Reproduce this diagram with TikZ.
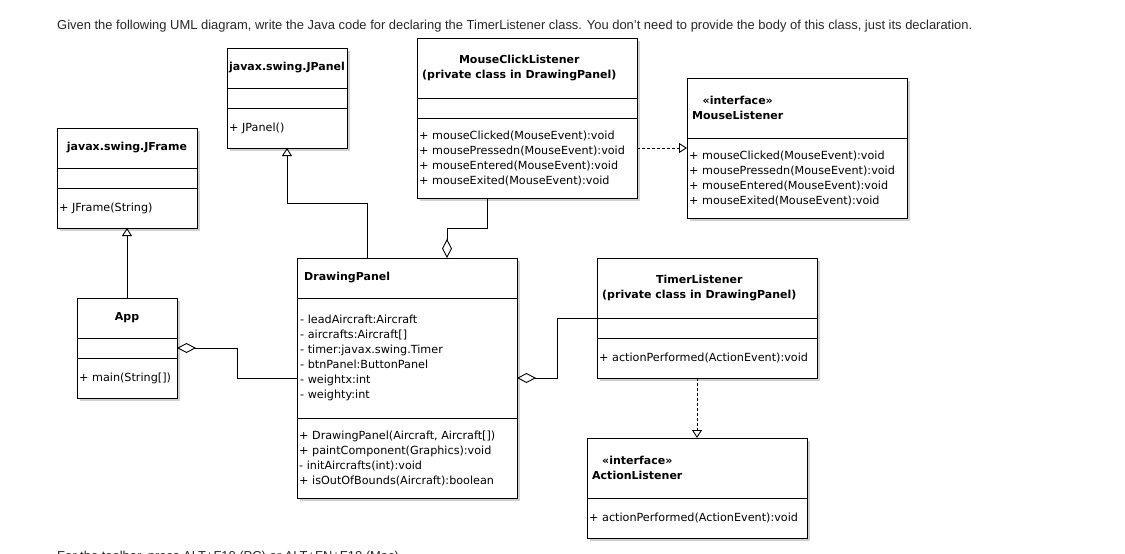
\documentclass[tikz,border=0pt]{standalone}
\usepackage{fontspec}
\setmainfont{Liberation Sans}
\newfontfamily\umlfont{DejaVu Sans}
\usetikzlibrary{positioning,arrows.meta,shadows}

\tikzset{
  box/.style={draw,fill=white,line width=0.9pt,anchor=north west,inner sep=0pt,outer sep=0pt,
    drop shadow={shadow xshift=3pt,shadow yshift=-3pt,fill=black!18,opacity=1}},
  cbox/.style 2 args={box,minimum width=#1,minimum height=#2},
  ttl/.style={font=\umlfont\bfseries\fontsize{11}{15}\selectfont,align=center,inner sep=0pt},
  ops/.style={font=\umlfont\fontsize{11.2}{15}\selectfont,align=left,inner sep=0pt},
  inherit/.style={-{Triangle[open,width=10pt,length=8pt]},line width=0.9pt},
  realize/.style={inherit,dash pattern=on 3pt off 2pt},
  aggr/.style={{Diamond[open,width=10pt,length=19pt]}-,line width=0.9pt}
}

\begin{document}
\begin{tikzpicture}[x=1pt,y=-1pt]
  \useasboundingbox (0,0) rectangle (1125,554);
  \clip (0,0) rectangle (1125,554);

  \node[anchor=base west,inner sep=0pt,font=\fontsize{12.95}{14}\selectfont,text=black!85] (q) at (57,29.5)
    {Given the following UML diagram, write the Java code for declaring the TimerListener class. You don’t need to provide the body of this class, just its declaration.};
  \node[anchor=base west,inner sep=0pt,font=\fontsize{12.95}{14}\selectfont,text=black!85] (tb) at (57,560)
    {For the toolbar, press ALT+F10 (PC) or ALT+FN+F10 (Mac).};

  \node[cbox={140pt}{40pt}] (jft) at (57,128) {};
  \node[cbox={140pt}{20pt}] (jfa) at (jft.south west) {};
  \node[cbox={140pt}{40pt}] (jfm) at (jfa.south west) {};
  \node[ttl] at (jft.center) {javax.swing.JFrame};
  \node[ops,right=2pt of jfm.west] {+ JFrame(String)};

  \node[cbox={120pt}{40pt}] (jpt) at (227,48) {};
  \node[cbox={120pt}{20pt}] (jpa) at (jpt.south west) {};
  \node[cbox={120pt}{40pt}] (jpm) at (jpa.south west) {};
  \node[ttl] at (jpt.center) {javax.swing.JPanel};
  \node[ops,right=2pt of jpm.west] {+ JPanel()};

  \node[cbox={220pt}{60pt}] (mct) at (417,38) {};
  \node[cbox={220pt}{20pt}] (mca) at (mct.south west) {};
  \node[cbox={220pt}{80pt}] (mcm) at (mca.south west) {};
  \node[ttl,right=5pt of mct.west] {MouseClickListener\\(private class in DrawingPanel)};
  \node[ops,right=2pt of mcm.west] {+ mouseClicked(MouseEvent):void\\+ mousePressedn(MouseEvent):void\\+ mouseEntered(MouseEvent):void\\+ mouseExited(MouseEvent):void};

  \node[cbox={220pt}{60pt}] (mlt) at (687,78) {};
  \node[cbox={220pt}{80pt}] (mlm) at (mlt.south west) {};
  \node[ttl,right=5pt of mlt.west] {«interface»\\MouseListener};
  \node[ops,right=2pt of mlm.west] {+ mouseClicked(MouseEvent):void\\+ mousePressedn(MouseEvent):void\\+ mouseEntered(MouseEvent):void\\+ mouseExited(MouseEvent):void};

  \node[cbox={100pt}{40pt}] (appt) at (77,298) {};
  \node[cbox={100pt}{20pt}] (appa) at (appt.south west) {};
  \node[cbox={100pt}{40pt}] (appm) at (appa.south west) {};
  \node[ttl] at (appt.center) {App};
  \node[ops,right=2pt of appm.west] {+ main(String[])};

  \node[cbox={220pt}{40pt}] (dpt) at (297,258) {};
  \node[cbox={220pt}{120pt}] (dpa) at (dpt.south west) {};
  \node[cbox={220pt}{80pt}] (dpm) at (dpa.south west) {};
  \node[ttl,right=7pt of dpt.west] {DrawingPanel};
  \node[ops,right=3pt of dpa.west] {- leadAircraft:Aircraft\\- aircrafts:Aircraft[]\\- timer:javax.swing.Timer\\- btnPanel:ButtonPanel\\- weightx:int\\- weighty:int};
  \node[ops,right=2pt of dpm.west] {+ DrawingPanel(Aircraft, Aircraft[])\\+ paintComponent(Graphics):void\\- initAircrafts(int):void\\+ isOutOfBounds(Aircraft):boolean};

  \node[cbox={220pt}{60pt}] (tlt) at (597,258) {};
  \node[cbox={220pt}{20pt}] (tla) at (tlt.south west) {};
  \node[cbox={220pt}{40pt}] (tlm) at (tla.south west) {};
  \node[ttl,right=5pt of tlt.west] {TimerListener\\(private class in DrawingPanel)};
  \node[ops,right=2pt of tlm.west] {+ actionPerformed(ActionEvent):void};

  \node[cbox={220pt}{60pt}] (alt) at (587,438) {};
  \node[cbox={220pt}{40pt}] (alm) at (alt.south west) {};
  \node[ttl,right=5pt of alt.west] {«interface»\\ActionListener};
  \node[ops,right=2pt of alm.west] {+ actionPerformed(ActionEvent):void};

  \draw[inherit] (appt.north) -- (jfm.south);
  \draw[inherit] ([xshift=70pt]dpt.north west) -- ++(0,-55) -| (jpm.south);
  \draw[aggr] ([xshift=150pt]dpt.north west) -- ++(0,-30) -| ([xshift=70pt]mcm.south west);
  \draw[aggr] (appa.east) -- ++(60,0) |- ([yshift=-20pt]dpa.west);
  \draw[aggr] ([yshift=-20pt]dpa.east) -- ++(40,0) |- (tla.north west);
  \draw[realize] (tlm.south -| alt.north) -- (alt.north);
  \draw[realize] ([yshift=10pt]mcm.east) -- ([yshift=30pt]mlm.west);
\end{tikzpicture}
\end{document}
